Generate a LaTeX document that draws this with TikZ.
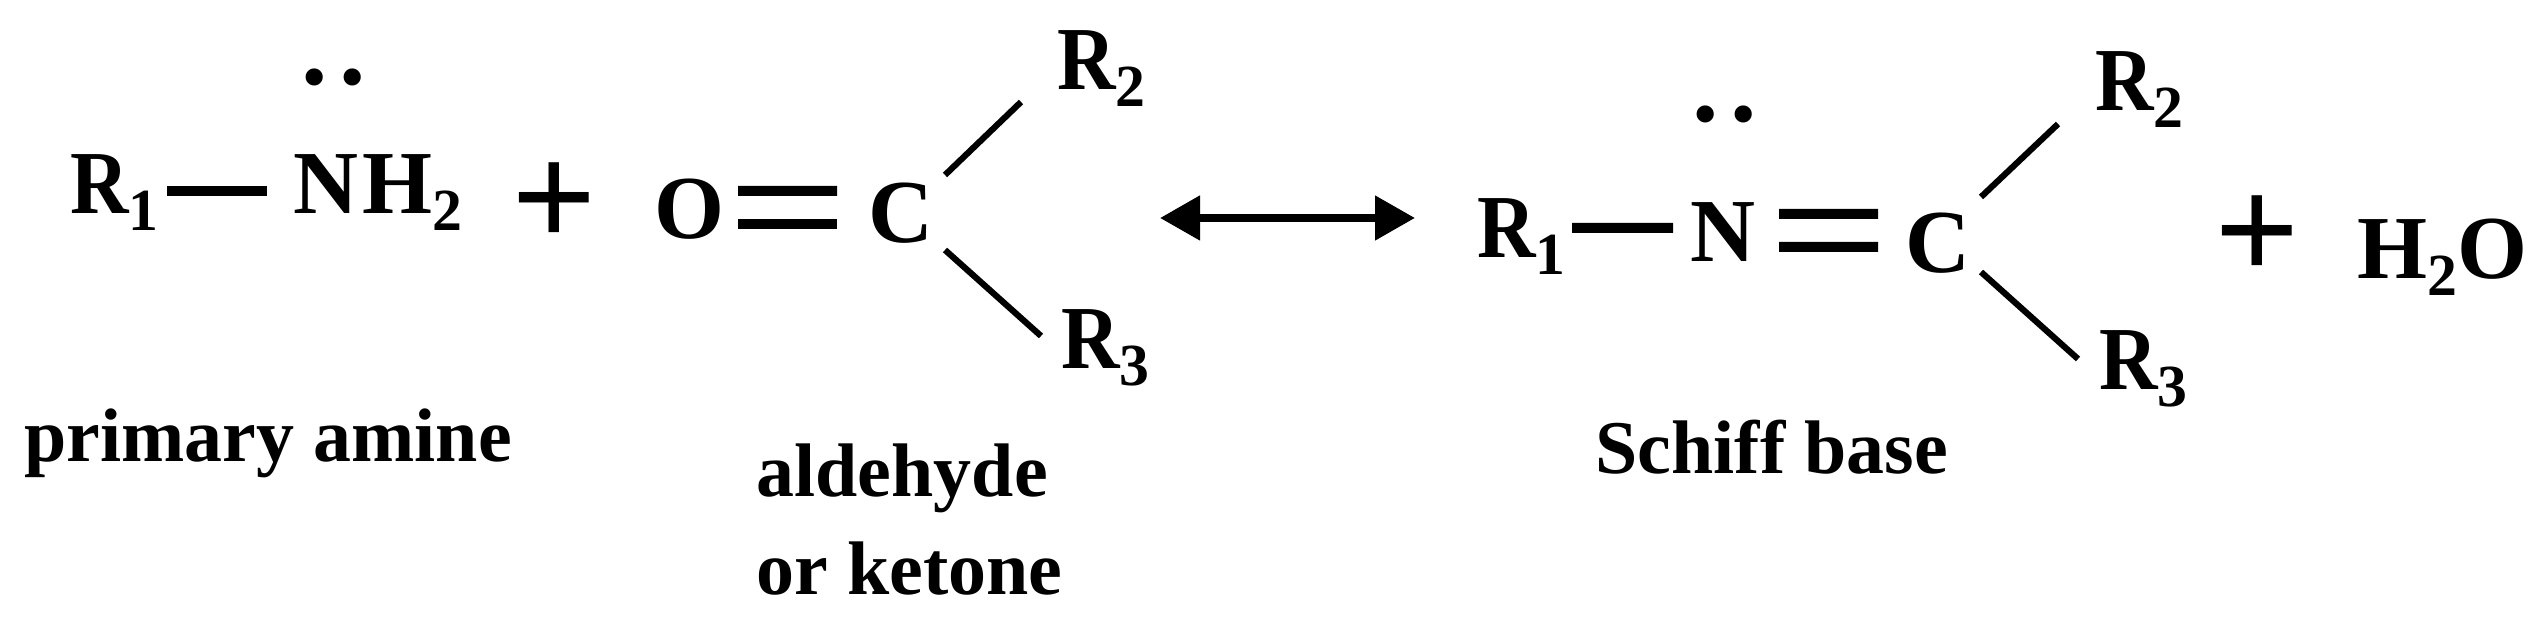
\documentclass[tikz,border=0pt]{standalone}
\usepackage{fontspec}
\setmainfont{Liberation Serif}
\usetikzlibrary{arrows.meta}
\newcommand{\sbs}[1]{\raisebox{-.17cm}{\fontsize{17}{17}\selectfont #1}}
\newcommand{\rsub}[1]{\scalebox{.9}[1]{R}\kern-.01cm\sbs{#1}}
\tikzset{
	atom/.style={anchor=base west,inner sep=0pt,font=\fontsize{25.6}{30}\selectfont\bfseries},
	lonepair/.style={anchor=base west,inner sep=0pt,font=\fontsize{30}{30}\selectfont\bfseries},
	caption/.style={anchor=base west,inner sep=0pt,font=\fontsize{21.6}{27.9}\selectfont\bfseries},
	plussign/.style={inner sep=0pt,font=\fontsize{42.7}{50}\selectfont\bfseries},
	bond/.style={line width=.1cm},
	slant/.style={line width=.062cm}
}
\begin{document}
\begin{tikzpicture}
				\useasboundingbox (0,0) rectangle (25.46,6.27);
				\node[atom] (r1a) at (0.70,4.13) {\rsub{1}};
				\node[atom] (nha) at (2.93,4.13) {N\kern.04cm H\sbs{2}};
				\node[lonepair] (lpa) at (3.01,5.42) {.\kern.12cm.};
				\node[plussign] (plusa) at (5.54,4.22) {+};
				\node[atom] (oa) at (6.54,3.88) {O};
				\node[atom] (ca) at (8.68,3.84) {C};
				\node[atom] (r2a) at (10.57,5.37) {\rsub{2}};
				\node[atom] (r3a) at (10.61,2.58) {\rsub{3}};
				\node[caption] (amine) at (0.24,1.65) {primary amine};
				\node[caption,align=left,anchor=west] (carbonyl) at (7.56,1.07) {aldehyde\\or ketone};

				\coordinate (arl) at (11.60,4.09);
				\coordinate (arr) at (14.15,4.09);
				\draw[line width=.08cm,{Triangle[length=.4cm,width=.43cm]}-{Triangle[length=.4cm,width=.43cm]}] (arl) -- (arr);

				\node[atom] (r1b) at (14.77,3.69) {\rsub{1}};
				\node[atom] (nb) at (16.90,3.65) {N};
				\node[lonepair] (lpb) at (16.92,5.05) {.\kern.12cm.};
				\node[atom] (cb) at (19.05,3.54) {C};
				\node[atom] (r2b) at (20.95,5.16) {\rsub{2}};
				\node[atom] (r3b) at (20.99,2.37) {\rsub{3}};
				\node[plussign] (plusb) at (22.57,3.89) {+};
				\node[atom] (water) at (23.57,3.48) {H\sbs{2}O};
				\node[caption] (schiff) at (15.95,1.53) {Schiff base};

				\draw[bond] ([shift={(.97,.23)}]r1a.base west) -- ([shift={(-.26,.23)}]nha.base west);
				\draw[bond] ([shift={(.84,.48)}]oa.base west) -- ([shift={(-.31,.52)}]ca.base west);
				\draw[bond] ([shift={(.84,.15)}]oa.base west) -- ([shift={(-.31,.19)}]ca.base west);
				\draw[slant] ([shift={(.77,.68)}]ca.base west) -- ([shift={(-.36,-.12)}]r2a.base west);
				\draw[slant] ([shift={(.77,-.07)}]ca.base west) -- ([shift={(-.20,.33)}]r3a.base west);

				\draw[bond] ([shift={(.95,.30)}]r1b.base west) -- ([shift={(-.17,.34)}]nb.base west);
				\draw[bond] ([shift={(.89,.48)}]nb.base west) -- ([shift={(-.27,.59)}]cb.base west);
				\draw[bond] ([shift={(.89,.15)}]nb.base west) -- ([shift={(-.27,.26)}]cb.base west);
				\draw[slant] ([shift={(.76,.76)}]cb.base west) -- ([shift={(-.37,-.13)}]r2b.base west);
				\draw[slant] ([shift={(.76,.01)}]cb.base west) -- ([shift={(-.21,.31)}]r3b.base west);
\end{tikzpicture}
\end{document}
